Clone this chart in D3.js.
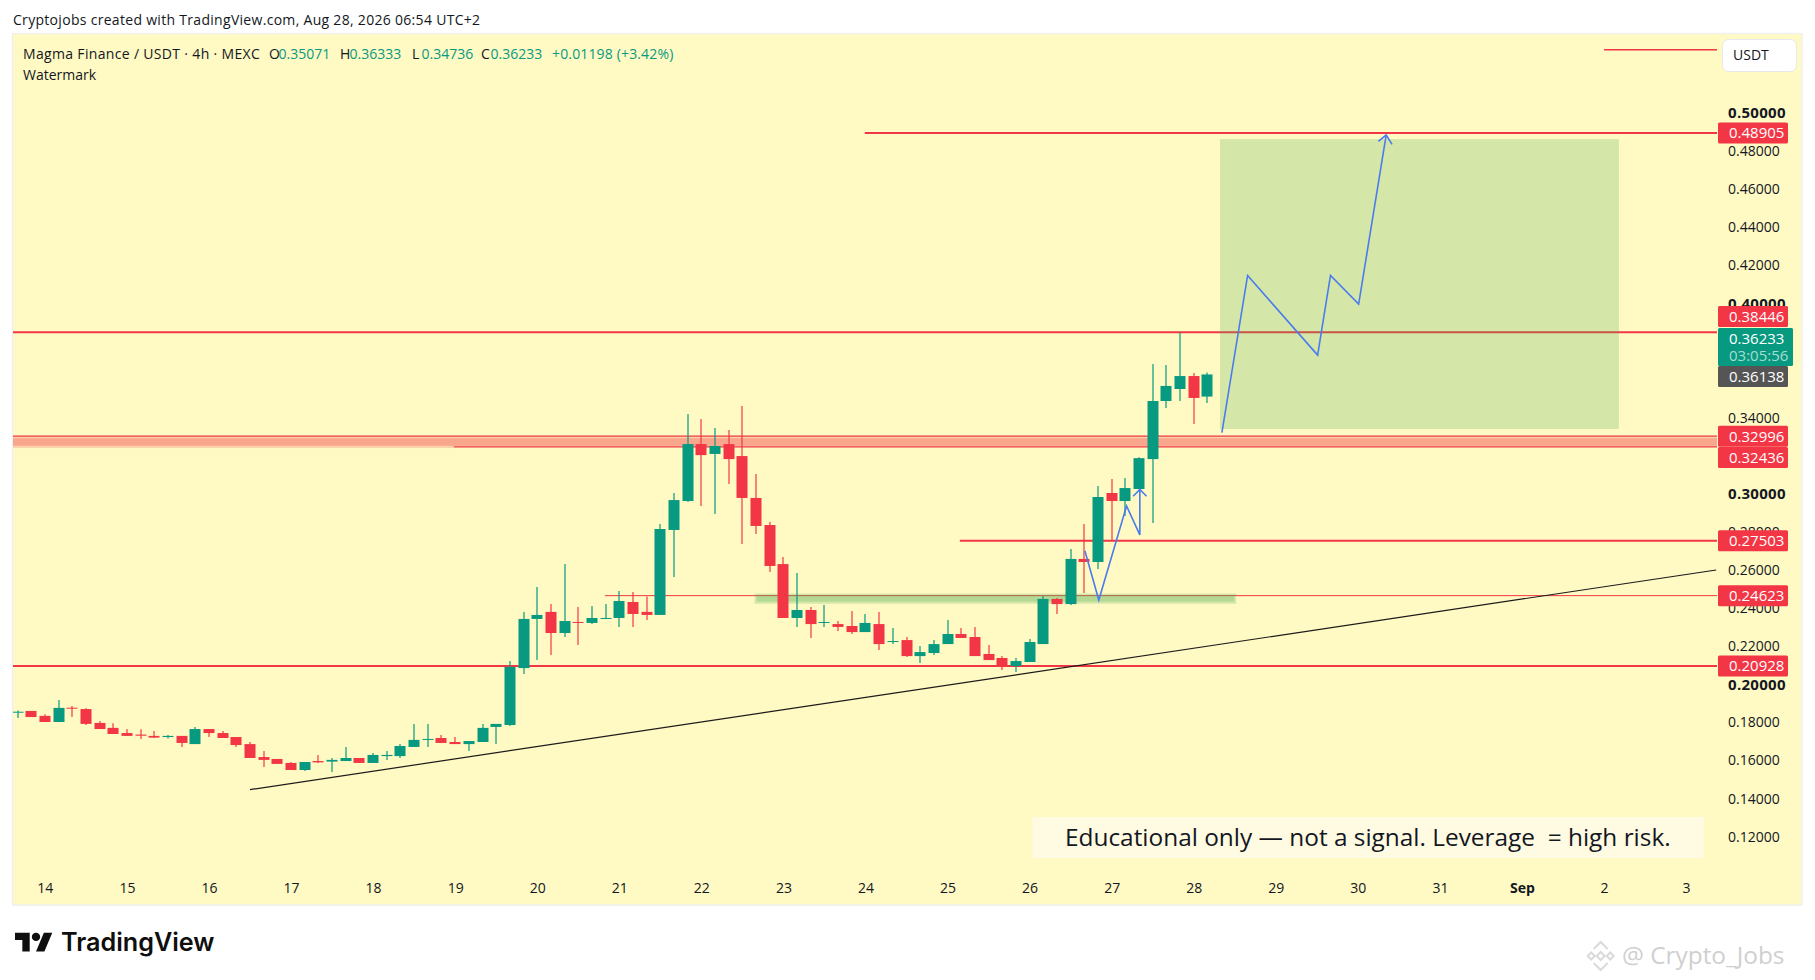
<!DOCTYPE html>
<html>
<head>
<meta charset="utf-8">
<script src="https://cdn.jsdelivr.net/npm/d3@7"></script>
<style>
html,body{margin:0;padding:0;background:#fff;}
svg{display:block;}
text{font-family:"Open Sans","Noto Sans",sans-serif;}
</style>
</head>
<body>
<svg id="c" width="1815" height="980"></svg>
<script>
// ---- candle data (4h bars, first bar = 13 Aug 16:00) ----
const open = [.1848,.1857,.1831,.1799,.1874,.1867,.1794,.1768,.1741,.1733,.1726,.1720,.1726,.1683,.1762,.1741,.1720,.1683,.1615,.1605,.1584,.1547,.1594,.1591,.1594,.1610,.1584,.1620,.1620,.1668,.1705,.1715,.1694,.1683,.1694,.1773,.1783,.2082,.2340,.2377,.2266,.2324,.2319,.2340,.2345,.2429,.2377,.2361,.2807,.2959,.3258,.3206,.3258,.3195,.2975,.2833,.2628,.2345,.2387,.2319,.2313,.2303,.2271,.2313,.2219,.2229,.2145,.2161,.2208,.2261,.2245,.2156,.2135,.2093,.2114,.2208,.2445,.2418,.2655,.2639,.3001,.2959,.3022,.3179,.3484,.3547,.3615,.35071];
const high = [.1859,.1857,.1839,.1915,.1883,.1871,.1804,.1792,.1762,.1761,.1752,.1731,.1726,.1773,.1762,.1752,.1720,.1694,.1647,.1605,.1589,.1589,.1626,.1610,.1668,.1610,.1636,.1647,.1683,.1789,.1789,.1731,.1720,.1699,.1789,.1789,.2119,.2377,.2508,.2418,.2628,.2403,.2408,.2418,.2487,.2481,.2458,.2838,.3001,.3416,.3389,.3342,.3332,.3458,.3101,.2849,.2665,.2581,.2403,.2413,.2329,.2382,.2366,.2377,.2292,.2245,.2198,.2229,.2334,.2292,.2298,.2203,.2145,.2135,.2235,.2460,.2450,.2707,.2838,.3038,.3074,.3080,.3189,.3678,.3673,.3843,.3631,.36333];
const low = [.1820,.1825,.1799,.1799,.1825,.1783,.1762,.1736,.1726,.1710,.1715,.1712,.1668,.1683,.1720,.1715,.1668,.1610,.1563,.1579,.1547,.1542,.1584,.1537,.1594,.1584,.1584,.1600,.1610,.1668,.1668,.1689,.1683,.1647,.1694,.1683,.1778,.2051,.2124,.2151,.2245,.2203,.2313,.2340,.2298,.2298,.2334,.2361,.2560,.2954,.2933,.2891,.3048,.2733,.2786,.2586,.2345,.2298,.2240,.2298,.2277,.2261,.2271,.2177,.2208,.2140,.2109,.2151,.2208,.2240,.2145,.2124,.2072,.2061,.2114,.2208,.2366,.2413,.2476,.2602,.2754,.2880,.3022,.2844,.3447,.3484,.3363,.34736];
const close = [.1853,.1825,.1799,.1873,.1869,.1789,.1762,.1736,.1726,.1727,.1717,.1726,.1689,.1762,.1741,.1715,.1678,.1610,.1600,.1579,.1547,.1589,.1587,.1600,.1610,.1584,.1626,.1626,.1673,.1705,.1710,.1689,.1683,.1699,.1768,.1789,.2088,.2340,.2361,.2266,.2329,.2319,.2345,.2345,.2434,.2366,.2361,.2812,.2964,.3258,.3200,.3248,.3179,.2975,.2828,.2618,.2345,.2387,.2313,.2324,.2298,.2271,.2319,.2208,.2224,.2145,.2166,.2208,.2261,.2240,.2145,.2124,.2093,.2119,.2219,.2445,.2418,.2655,.2639,.2980,.2959,.3027,.3184,.3484,.3563,.3615,.3500,.36233];

// ---- axes ----
const priceTicks = [.50,.48,.46,.44,.42,.40,.38,.36,.34,.32,.30,.28,.26,.24,.22,.20,.18,.16,.14,.12];
const boldPrices = [.50,.40,.30,.20];
const dayLabels = ["14","15","16","17","18","19","20","21","22","23","24","25","26","27","28","29","30","31","Sep","2","3"];
const dayBars = [2,8,14,20,26,32,38,44,50,56,62,68,74,80,86,92,98,104,110,116,122];

// ---- drawings, in bar index and price ----
const levelPrices = [.48905,.38446,.27503,.24623,.20928];
const levelStarts = [61.95,-2,68.9,42.95,-2];
const levelWeights = [2,2,2,1,2];
const zoneTop = .32996, zoneBottom = .32436, zoneSplitBar = 31.9, zoneLeftBottom = .3237;
const markLine = {bars:[116,124.3], price:.5328};
const trendBars = [17,124.2], trendPrices = [.1444,.2597];
const demandBars = [53.9,89.1], demandPrices = [.2473,.2420];
const demandInnerBars = [54.05,88.95], demandInnerPrices = [.2463,.2431];
const targetBars = [87.92,117.09], targetPrices = [.4859,.3337];
const pathABars = [88.06,89.94,95.06,96.0,98.06,100.07];
const pathAPrices = [.3318,.4143,.3725,.4143,.3993,.4880];
const arrowABars = [99.5,100.07,100.5], arrowAPrices = [.4847,.4880,.4831];
const pathBBars = [78.04,79.06,81.09,82.06,82.06];
const pathBPrices = [.2698,.2439,.2933,.2781,.3020];
const arrowBBars = [81.57,82.06,82.55], arrowBPrices = [.2984,.3020,.2984];

// ---- price tags ----
const tagValues = ["0.48905","0.38446","0.36138","0.32996","0.32436","0.27503","0.24623","0.20928"];
const lastPrice = "0.36233", countdown = "03:05:56";

// ---- text ----
const headerText = "Cryptojobs created with TradingView.com, Aug 28, 2026 06:54 UTC+2";
const symbolText = "Magma Finance / USDT · 4h · MEXC";
const ohlcLabels = ["O","H","L","C"];
const ohlcValues = ["0.35071","0.36333","0.34736","0.36233"];
const changeText = "+0.01198 (+3.42%)";
const noteText = "Educational only — not a signal. Leverage  = high risk.";

const GREEN="#089981", RED="#F23645", INK="#131722", BLUE="#4B7CEE", PANEL="#FFF9C4";
const svg = d3.select("#c");
const x = d3.scaleLinear().domain([0,87]).range([17.5,17.5+87*13.677]);
const y = d3.scaleLinear().domain([.5,.12]).range([112.2,836.1]);
const pathGen = d3.line();

svg.append("rect").attr("x",12.5).attr("y",33.5).attr("width",1789.5).attr("height",871.5)
  .attr("fill",PANEL).attr("stroke","#F0F1EE").attr("stroke-width",1.5);
svg.append("defs").append("clipPath").attr("id","plot").append("rect")
  .attr("x",13).attr("y",34).attr("width",1704).attr("height",870);
const plot = svg.append("g").attr("clip-path","url(#plot)");

// zone
plot.append("rect").attr("x",13).attr("width",x(zoneSplitBar)-13).attr("y",y(zoneTop))
  .attr("height",y(zoneLeftBottom)-y(zoneTop)).attr("fill",RED).attr("opacity",.2);
plot.append("rect").attr("x",x(zoneSplitBar)).attr("width",1717-x(zoneSplitBar)).attr("y",y(zoneTop))
  .attr("height",y(zoneBottom)-y(zoneTop)).attr("fill",RED).attr("opacity",.2);
plot.append("rect").attr("x",13).attr("width",1704).attr("y",y(zoneTop)+2)
  .attr("height",y(zoneBottom)-y(zoneTop)-3).attr("fill",RED).attr("opacity",.28);
plot.append("line").attr("x1",13).attr("x2",1717).attr("y1",y(zoneTop)).attr("y2",y(zoneTop)).attr("stroke",RED).attr("stroke-width",1.2);
plot.append("line").attr("x1",x(zoneSplitBar)).attr("x2",1717).attr("y1",y(zoneBottom)).attr("y2",y(zoneBottom)).attr("stroke",RED).attr("stroke-width",1.2);

// horizontal levels
plot.selectAll("line.level").data(levelPrices).join("line").attr("class","level")
  .attr("x1",(d,i)=>x(levelStarts[i])).attr("x2",1717)
  .attr("y1",d=>y(d)).attr("y2",d=>y(d)).attr("stroke",RED).attr("stroke-width",(d,i)=>levelWeights[i]);
plot.append("line").attr("x1",x(markLine.bars[0])).attr("x2",1717).attr("y1",y(markLine.price)).attr("y2",y(markLine.price))
  .attr("stroke",RED).attr("stroke-width",1.6);

// trend line
plot.append("path").attr("d",pathGen(trendBars.map((b,i)=>[x(b),y(trendPrices[i])])))
  .attr("fill","none").attr("stroke","#1b1b1b").attr("stroke-width",1.2);

// demand band sits behind the candles
const zoneGreen="rgba(76,175,80,.24)";
plot.append("rect").attr("x",x(demandBars[0])).attr("width",x(demandBars[1])-x(demandBars[0]))
  .attr("y",y(demandPrices[0])).attr("height",y(demandPrices[1])-y(demandPrices[0])).attr("fill",zoneGreen);
plot.append("rect").attr("x",x(demandInnerBars[0])).attr("width",x(demandInnerBars[1])-x(demandInnerBars[0]))
  .attr("y",y(demandInnerPrices[0])).attr("height",y(demandInnerPrices[1])-y(demandInnerPrices[0])).attr("fill",zoneGreen);

// candles
const bars = plot.append("g").selectAll("g").data(d3.range(open.length)).join("g");
bars.append("line").attr("x1",i=>Math.round(x(i))).attr("x2",i=>Math.round(x(i)))
  .attr("y1",i=>y(high[i])).attr("y2",i=>y(low[i]))
  .attr("stroke",i=>close[i]>=open[i]?GREEN:RED).attr("stroke-width",1.2);
bars.append("rect").attr("x",i=>Math.round(x(i))-5.5).attr("width",11)
  .attr("y",i=>y(Math.max(open[i],close[i])))
  .attr("height",i=>Math.max(1,Math.abs(y(open[i])-y(close[i]))))
  .attr("fill",i=>close[i]>=open[i]?GREEN:RED);

// target box
plot.append("rect").attr("x",x(targetBars[0])).attr("width",x(targetBars[1])-x(targetBars[0]))
  .attr("y",y(targetPrices[0])).attr("height",y(targetPrices[1])-y(targetPrices[0])).attr("fill",zoneGreen);

// projected paths
[[pathABars,pathAPrices],[arrowABars,arrowAPrices],[pathBBars,pathBPrices],[arrowBBars,arrowBPrices]].forEach(([bs,ps])=>{
  plot.append("path").attr("d",pathGen(bs.map((b,i)=>[x(b),y(ps[i])])))
    .attr("fill","none").attr("stroke",BLUE).attr("stroke-width",1.6);
});

// y axis
const yAxis = svg.append("g").attr("transform","translate(1728,0)")
  .call(d3.axisRight(y).tickValues(priceTicks).tickSize(0).tickPadding(0).tickFormat(d3.format(".5f")));
yAxis.select(".domain").remove();
yAxis.selectAll("text").style("font-family",'"Open Sans",sans-serif').attr("fill",INK)
  .style("font-size",d=>boldPrices.includes(d)?"15px":"14px")
  .style("font-weight",d=>boldPrices.includes(d)?700:400)
  .style("letter-spacing",d=>boldPrices.includes(d)?"0.3px":"0")
  .attr("dy","0.36em");

// x axis
const xAxis = svg.append("g").attr("transform","translate(0,888)")
  .call(d3.axisBottom(x).tickValues(dayBars).tickSize(0).tickPadding(0).tickFormat((d,i)=>dayLabels[i]));
xAxis.select(".domain").remove();
xAxis.selectAll("text").style("font-family",'"Open Sans",sans-serif').attr("fill",INK)
  .style("font-size","14px").attr("dy","0.36em").attr("y",0)
  .style("font-weight",(d,i)=>dayLabels[i]==="Sep"?700:400);

// price tags
const tagShift = {"0.38446":-15.8,"0.36138":0.2,"0.32436":10.6};
function tag(v,fill){
  const cy = y(+v)+(tagShift[v]||0);
  svg.append("rect").attr("x",1718).attr("y",cy-10.5).attr("width",70).attr("height",21).attr("rx",1.5).attr("fill",fill);
  svg.append("text").attr("x",1729).attr("y",cy).attr("dy","0.36em").attr("fill","#fff")
    .style("font-size","15px").style("font-weight",500).text(v);
}
tagValues.forEach(v=>tag(v,v==="0.36138"?"#555555":RED));
svg.append("rect").attr("x",1718).attr("y",328).attr("width",75).attr("height",38).attr("rx",1.5).attr("fill",GREEN);
svg.append("text").attr("x",1729).attr("y",339).attr("dy","0.36em").attr("fill","#fff").style("font-size","15px").style("font-weight",500).text(lastPrice);
svg.append("text").attr("x",1729).attr("y",356).attr("dy","0.36em").attr("fill","#A6DCD2").style("font-size","15px").style("font-weight",500).text(countdown);

// currency button
svg.append("rect").attr("x",1722.5).attr("y",39.5).attr("width",74).attr("height",32).attr("rx",6).attr("fill","#fff").attr("stroke","#E6E8EE");
svg.append("text").attr("x",1733).attr("y",55).attr("dy","0.36em").attr("fill",INK).style("font-size","14px").text("USDT");

// header + legend
svg.append("text").attr("x",13).attr("y",20).attr("dy","0.36em").attr("fill",INK).style("font-size","14px").style("letter-spacing","0.3px").text(headerText);
svg.append("text").attr("x",23).attr("y",53.7).attr("dy","0.36em").attr("fill",INK).style("font-size","14px").style("letter-spacing","0.33px").text(symbolText);
svg.append("text").attr("x",23).attr("y",75).attr("dy","0.36em").attr("fill",INK).style("font-size","14px").text("Watermark");
const labelLeft = [269,340,412,481];
ohlcLabels.forEach((l,i)=>{
  svg.append("text").attr("x",labelLeft[i]).attr("y",53.7).attr("dy","0.36em").attr("fill",INK).style("font-size","14px").text(l);
  svg.append("text").attr("x",labelLeft[i]+9.5).attr("y",53.7).attr("dy","0.36em").attr("fill",GREEN).style("font-size","14px").text(ohlcValues[i]);
});
svg.append("text").attr("x",552).attr("y",53.7).attr("dy","0.36em").attr("fill",GREEN).style("font-size","14px").style("letter-spacing","0.15px").text(changeText);

// note box
svg.append("rect").attr("x",1032.5).attr("y",817).attr("width",671.5).attr("height",41).attr("fill","#FFFBE3");
svg.append("text").attr("x",1065).attr("y",837.5).attr("dy","0.36em").attr("fill",INK).style("font-size","24.4px")
  .style("white-space","pre").text(noteText);

// TradingView logo
const logo = svg.append("g").attr("transform","translate(15,928.5) scale(1.05)").attr("fill","#0f0f0f");
logo.append("path").attr("d","M14 22H7V11H0V4h14v18zM28 22h-8l7.5-18h8L28 22z");
logo.append("circle").attr("cx",20).attr("cy",8).attr("r",4);
svg.append("text").attr("x",61).attr("y",951).attr("fill","#0f0f0f")
  .style("font-family","Inter,sans-serif").style("font-size","25.2px").style("font-weight",600).text("TradingView");

// site watermark
const wm = svg.append("g").attr("transform","translate(1600.7,956)").attr("fill","none").attr("stroke","#DADADA").attr("stroke-width",2);
wm.append("path").attr("d","M-4 0L0 -4L4 0L0 4Z");
wm.append("path").attr("d","M-13 0L-9.5 -3.5L-6 0L-9.5 3.5Z");
wm.append("path").attr("d","M13 0L9.5 -3.5L6 0L9.5 3.5Z");
wm.append("path").attr("d","M-7 -7L0 -14L7 -7");
wm.append("path").attr("d","M-7 7L0 14L7 7");
svg.append("text").attr("x",1622).attr("y",964).attr("fill","#CFCFCF").style("font-size","24.4px").text("@ Crypto_Jobs");
</script>
</body>
</html>
